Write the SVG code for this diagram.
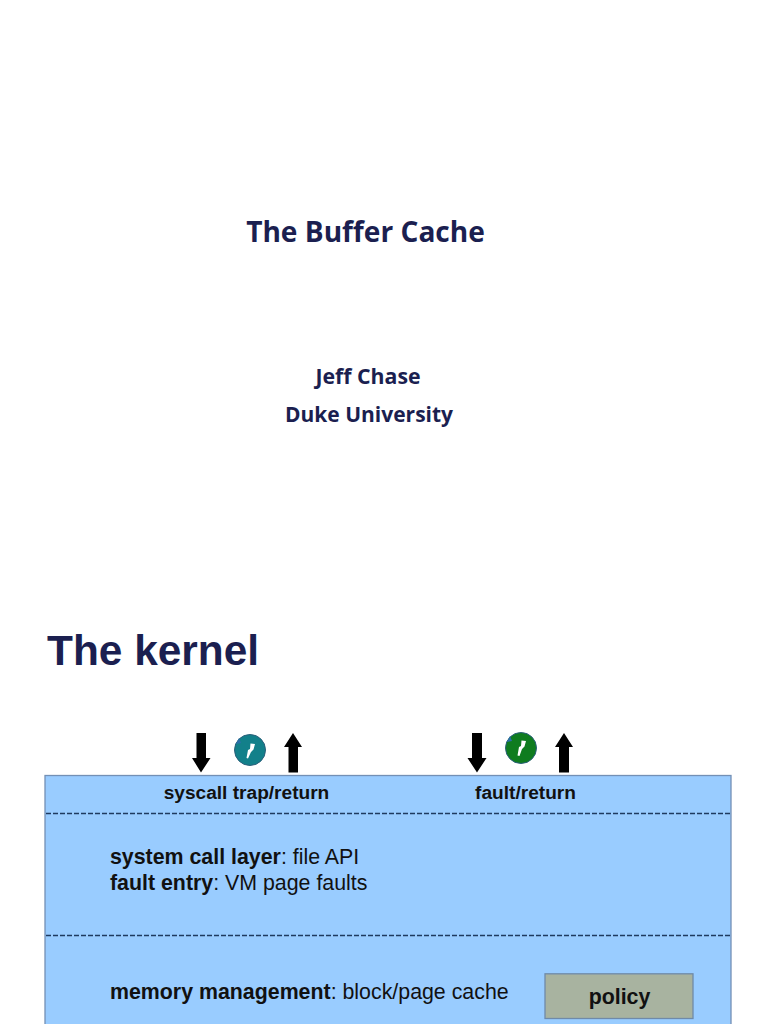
<svg xmlns="http://www.w3.org/2000/svg" width="768" height="1024" viewBox="0 0 768 1024">
<style>
.t{font-family:"Open Sans","Noto Sans",sans-serif;font-weight:700;fill:#1b1f50;text-anchor:middle}
.a{font-family:"Liberation Sans",Arial,sans-serif;fill:#111;font-size:21.35px}
.b{font-weight:700}
.s{font-size:19.100px}
.dash{stroke:#1f3a5f;stroke-width:1.5;stroke-dasharray:5 2;fill:none}
.ar{fill:#000}
.bolt{fill:#fff}
.ic{stroke:#2a5f7a;stroke-width:1}
</style>
<rect width="768" height="1024" fill="#fff"/>
<text class="t" x="365.500" y="242" font-size="28.100">The Buffer Cache</text>
<text class="t" x="368" y="384" font-size="21.300">Jeff Chase</text>
<text class="t" x="369" y="422" font-size="21">Duke University</text>
<text x="47" y="665" font-family="Liberation Sans,Arial,sans-serif" font-weight="700" font-size="42.400" fill="#1b1f50">The kernel</text>
<g id="kernel-box">
<rect x="45" y="775.500" width="686" height="260" fill="#99ccff" stroke="#7390b5" stroke-width="1.300"/>
</g>
<g id="connectors">
<line class="dash" x1="46" y1="813.500" x2="731" y2="813.500"/>
<line class="dash" x1="46" y1="935.500" x2="731" y2="935.500"/>
<path class="ar" d="M196.500 733H206V758H210.500L201 772.500L192 758H196.500Z"/>
<path class="ar" d="M288.500 772.500V747H284L293 733L302 747H298V772.500Z"/>
<path class="ar" d="M472 733H482V758H486.500L477 772.500L467.500 758H472Z"/>
<path class="ar" d="M559 772.500V747H555L564 733L573 747H569V772.500Z"/>
</g>
<g id="syscall-icon">
<circle class="ic" cx="250" cy="750" r="15.500" fill="#12808a"/>
<path d="M236 744L239 738L241 743Z" fill="#2a6fa8"/>
<path class="bolt" d="M250.500 743.500L255 744L253.500 749.500L251 752L248 758.500L246.500 758L248 750L250 749Z"/>
</g>
<g id="fault-icon">
<circle class="ic" cx="521" cy="748" r="15.500" fill="#0f7c1f"/>
<path d="M507 742L510 736L512 741Z" fill="#2a6fa8"/>
<path class="bolt" d="M521.500 740.500L526 741L524.500 746.500L522 749L519.500 756L517.500 755.500L519 747L521 746Z"/>
</g>
<g id="syscall-label"><text class="a b s" x="246.500" y="798.500" text-anchor="middle">syscall trap/return</text></g>
<g id="fault-label"><text class="a b s" x="525.500" y="798.500" text-anchor="middle">fault/return</text></g>
<g id="system-call-layer">
<text class="a" x="110" y="864"><tspan class="b">system call layer</tspan>: file API</text>
<text class="a" x="110" y="890"><tspan class="b">fault entry</tspan>: VM page faults</text>
</g>
<g id="memory-management">
<text class="a" x="110" y="999"><tspan class="b">memory management</tspan>: block/page cache</text>
</g>
<g id="policy">
<rect x="545" y="973.800" width="148" height="44.700" fill="#a8b3a0" stroke="#6f8aa8" stroke-width="1.300"/>
<text class="a b" x="619.500" y="1004" text-anchor="middle">policy</text>
</g>
</svg>
